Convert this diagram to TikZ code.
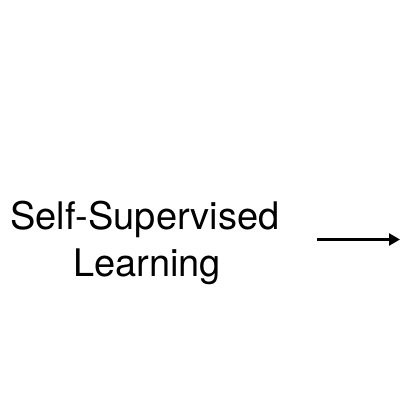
\documentclass[tikz,border=0pt]{standalone}
\usepackage{fontspec}
\setmainfont{TeX Gyre Heros}
\usetikzlibrary{arrows.meta}
\begin{document}
\begin{tikzpicture}[x=1pt,y=1pt,
  label/.style={font=\fontsize{38}{48}\selectfont, inner sep=0pt, align=center},
  flow/.style={line width=2.4pt, -{Triangle[length=11pt,width=12pt]}}]
\useasboundingbox (0,0) rectangle (400,400);
\fill[white] (0,0) rectangle (400,400);
\node[label, anchor=base] (l1) at (145,171) {Self-Supervised};
\node[label, anchor=base] (l2) at (147,123) {Learning};
\coordinate (a) at (317,160.5);
\coordinate (b) at (400,160.5);
\draw[flow] (a) -- (b);
\end{tikzpicture}
\end{document}
